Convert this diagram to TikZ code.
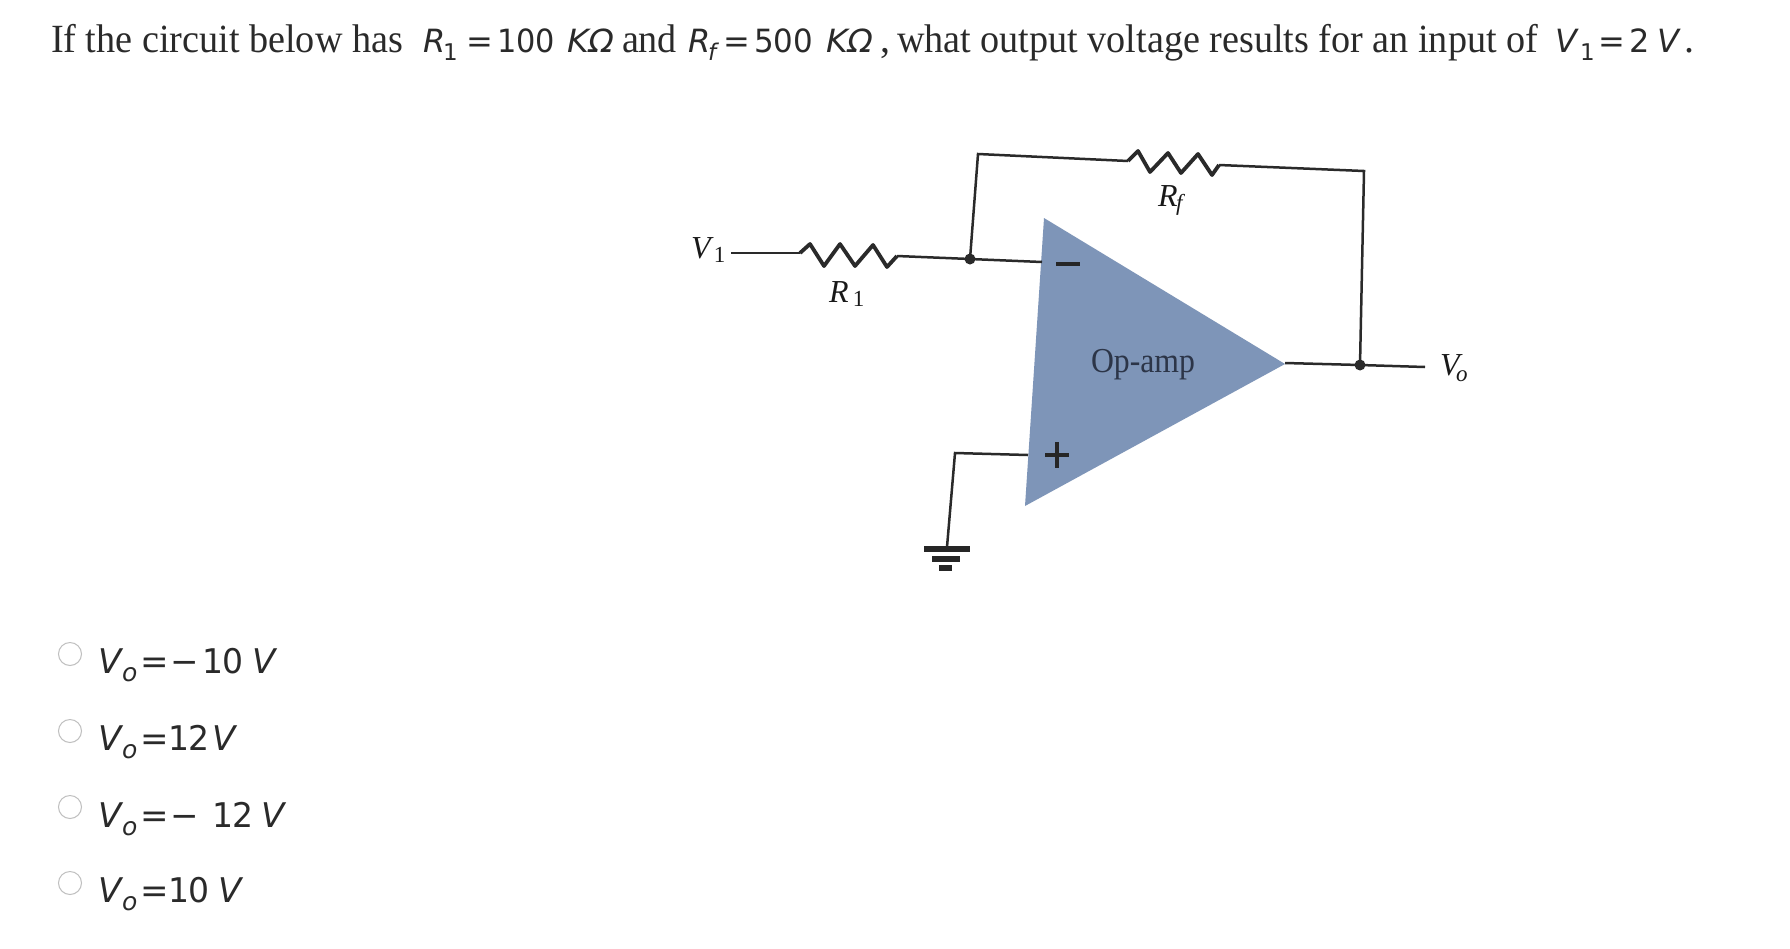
\documentclass[tikz,border=0pt]{standalone}
\usepackage{graphicx}
\usepackage{fontspec}
\setmainfont{Liberation Serif}
\newfontfamily\mathf{DejaVu Sans}
\definecolor{ink}{HTML}{2A2A2A}
\definecolor{opblue}{HTML}{7E95B8}
\definecolor{wirecol}{HTML}{2A2A2A}
\definecolor{optext}{HTML}{2C3548}
\newcommand{\fsz}[1]{\fontsize{#1}{#1}\selectfont}
\newcommand{\qs}{\fsz{40}}
\newcommand{\ms}{\mathf\itshape\fsz{32}}
\newcommand{\mup}{\mathf\fsz{32}}
\newcommand{\sbs}{\mathf\fsz{23}}
\newcommand{\sbi}{\mathf\itshape\fsz{23}}
\newcommand{\opi}{\mathf\itshape\fsz{34}}
\newcommand{\opu}{\mathf\fsz{34}}
\newcommand{\opo}{\mathf\itshape\fsz{25}}
\tikzset{
  txt/.style={anchor=base west,inner sep=0pt,outer sep=0pt,text=ink},
  wire/.style={draw=wirecol,line width=2.5pt,line join=miter},
  resist/.style={draw=wirecol,line width=3.8pt,line join=round},
  dotn/.style={circle,fill=wirecol,inner sep=0pt,minimum size=11pt},
  radio/.style={circle,draw=black!25,line width=1pt,fill=white,inner sep=0pt,minimum size=23pt},
  lab/.style={anchor=base west,inner sep=0pt,outer sep=0pt,text=black!90},
  bar/.style={inner sep=0pt,fill=black!85}
}
\begin{document}
\begin{tikzpicture}[x=1pt,y=-1pt]
\useasboundingbox (0,0) rectangle (1790,948);
\fill[white] (0,0) rectangle (1790,948);
% question
\node[txt] (q1) at (51,52) {\qs\resizebox{352pt}{\height}{If the circuit below has}};
\node[txt] (q2) at (423,52) {\ms R};
\node[txt] (q3) at (443,60) {\sbs 1};
\node[txt] (q4) at (466,52) {\mup =};
\node[txt] (q5) at (497,52) {\mup\resizebox{58pt}{\height}{100}};
\node[txt] (q6) at (567,52) {\ms\resizebox{47pt}{\height}{KΩ}};
\node[txt] (q7) at (622,52) {\qs\resizebox{55pt}{\height}{and}};
\node[txt] (q8) at (688,52) {\ms R};
\node[txt] (q9) at (708,60) {\sbi f};
\node[txt] (q10) at (723,52) {\mup =};
\node[txt] (q11) at (754,52) {\mup\resizebox{59pt}{\height}{500}};
\node[txt] (q12) at (826,52) {\ms\resizebox{47pt}{\height}{KΩ}};
\node[txt] (q13) at (880,52) {\qs ,};
\node[txt] (q14) at (897,52) {\qs\resizebox{641pt}{\height}{what output voltage results for an input of}};
\node[txt] (q15) at (1555,52) {\ms V};
\node[txt] (q16) at (1580,60) {\sbs 1};
\node[txt] (q17) at (1598,52) {\mup =};
\node[txt] (q18) at (1629,52) {\mup 2};
\node[txt] (q19) at (1657,52) {\ms V};
\node[txt] (q20) at (1684,52) {\qs .};
% op-amp
\fill[opblue] (1044,218) -- (1285,364) -- (1025,506) -- cycle;
\node[lab,text=optext] (opamp) at (1091,372) {\fsz{35}\resizebox{104pt}{\height}{Op-amp}};
\node[bar,minimum width=24pt,minimum height=4.5pt] (minus) at (1068,264) {};
\node[bar,minimum width=24pt,minimum height=4.5pt] (plush) at (1057,455) {};
\node[bar,minimum width=4.5pt,minimum height=26pt] (plusv) at (1057,455) {};
% named points
\coordinate (vin) at (731,253);
\coordinate (r1a) at (800,253);
\coordinate (r1b) at (897,256);
\node[dotn] (j1) at (970,259) {};
\coordinate (ninv) at (1042,262);
\coordinate (ftl) at (978,154);
\coordinate (rfa) at (1128,161);
\coordinate (rfb) at (1219,165);
\coordinate (ftr) at (1364,171);
\node[dotn] (j2) at (1360,365) {};
\coordinate (oout) at (1285,363);
\coordinate (vout) at (1425,367);
\coordinate (pinv) at (1028,455);
\coordinate (pc) at (955,453);
\coordinate (gnd) at (947,547);
% wires
\draw[wire] (vin) -- (r1a);
\draw[resist] (r1a) -- (810,244) -- (824,266) -- (840,244) -- (855,266) -- (873,245) -- (887,267) -- (r1b);
\draw[wire] (r1b) -- (j1.center) -- (ninv);
\draw[wire] (j1.center) -- (ftl) -- (rfa);
\draw[resist] (rfa) -- (1138,151) -- (1150,172) -- (1168,153) -- (1181,173) -- (1198,154) -- (1212,175) -- (rfb);
\draw[wire] (rfb) -- (ftr) -- (j2.center);
\draw[wire] (oout) -- (j2.center) -- (vout);
\draw[wire] (pinv) -- (pc) -- (gnd);
% ground
\node[bar,minimum width=46pt,minimum height=5.5pt] (g1) at (947,549) {};
\node[bar,minimum width=28pt,minimum height=5.5pt] (g2) at (946,559) {};
\node[bar,minimum width=13pt,minimum height=5.5pt] (g3) at (945,568) {};
% labels
\node[lab] (lv1) at (691,258) {\fsz{32}\itshape V};
\node[lab] (lv1s) at (708,262) {\fsz{23} 1};
\node[lab] (lr1) at (829,302) {\fsz{32}\itshape R};
\node[lab] (lr1s) at (847,306) {\fsz{23} 1};
\node[lab] (lrf) at (1158,206) {\fsz{32}\itshape R};
\node[lab] (lrfs) at (1176,210) {\fsz{23}\itshape f};
\node[lab] (lvo) at (1440,375) {\fsz{32}\itshape V};
\node[lab] (lvos) at (1456,381) {\fsz{23}\itshape o};
% options
\foreach \n/\cy/\by in {a/654/673,b/731/750,c/807/827,d/883/902}{
  \node[radio] (rad\n) at (70,\cy) {};
  \node[txt] (v\n) at (98,\by) {\opi V};
  \node[txt] (o\n) at (122,\by+8) {\opo o};
  \node[txt] (e\n) at (140,\by) {\opu =};
}
\node[txt] (a1) at (170,673) {\opu −};
\node[txt] (a2) at (202,673) {\opu\resizebox{42pt}{\height}{10}};
\node[txt] (a3) at (252,673) {\opi V};
\node[txt] (b1) at (168,750) {\opu\resizebox{42pt}{\height}{12}};
\node[txt] (b2) at (212,750) {\opi V};
\node[txt] (c1) at (170,827) {\opu −};
\node[txt] (c2) at (212,827) {\opu\resizebox{42pt}{\height}{12}};
\node[txt] (c3) at (261,827) {\opi V};
\node[txt] (d1) at (168,902) {\opu\resizebox{42pt}{\height}{10}};
\node[txt] (d2) at (218,902) {\opi V};
\end{tikzpicture}
\end{document}
